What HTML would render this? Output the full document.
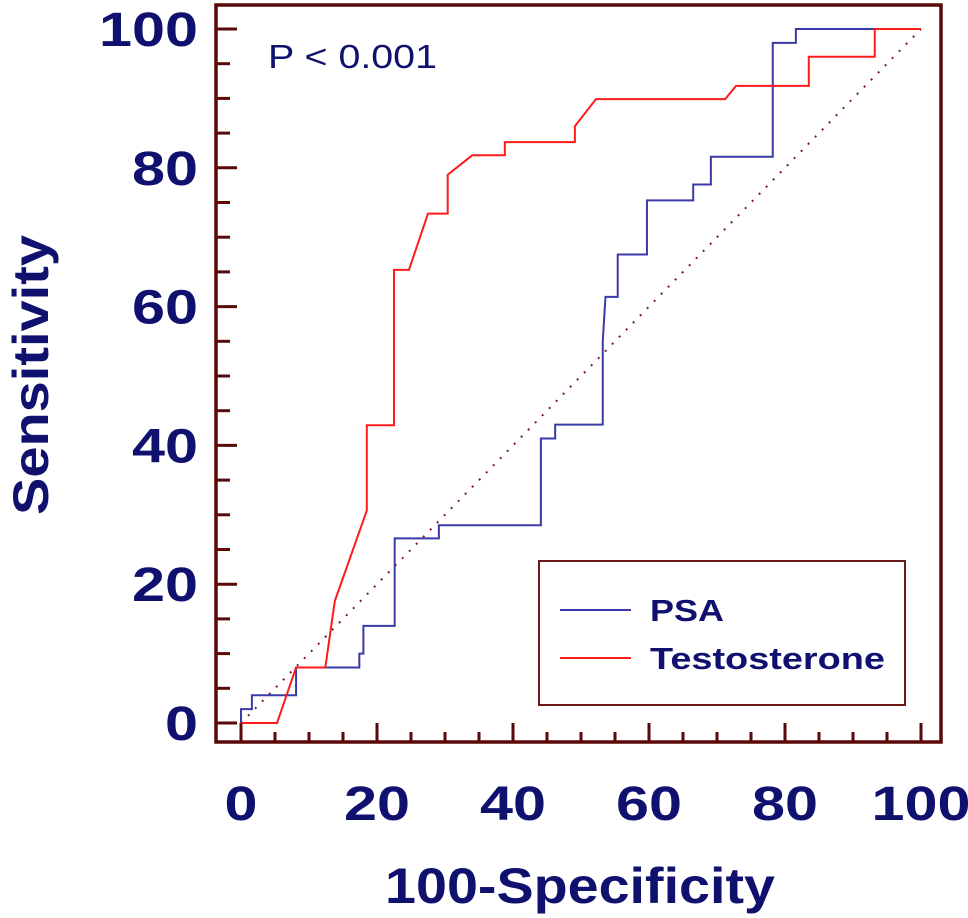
<!DOCTYPE html>
<html><head><meta charset="utf-8"><style>
body{margin:0;background:#fff}
svg{display:block}
text{font-family:"Liberation Sans",Arial,sans-serif}
</style></head><body>
<svg id="chart" width="968" height="918" viewBox="0 0 968 918">
<g id="g"></g>
<text x="268" y="68" font-size="33" fill="#10106e" textLength="169" lengthAdjust="spacingAndGlyphs">P &lt; 0.001</text>
<g>
<rect x="539" y="561" width="366" height="144" fill="#fff" stroke="#6a1a1a" stroke-width="2"/>
<line x1="560" y1="610" x2="631" y2="610" stroke="#3a3aa8" stroke-width="2"/>
<text x="650" y="621" font-size="31" font-weight="bold" fill="#10106e" textLength="74" lengthAdjust="spacingAndGlyphs">PSA</text>
<line x1="560" y1="658" x2="631" y2="658" stroke="#ff1a1a" stroke-width="2"/>
<text x="650" y="669" font-size="31" font-weight="bold" fill="#10106e" textLength="235" lengthAdjust="spacingAndGlyphs">Testosterone</text>
</g>
<text x="385" y="903" font-size="50" font-weight="bold" fill="#10106e" textLength="390" lengthAdjust="spacingAndGlyphs">100-Specificity</text>
<text transform="translate(48,515) rotate(-90)" font-size="50" font-weight="bold" fill="#10106e" textLength="280" lengthAdjust="spacingAndGlyphs">Sensitivity</text>
</svg>
<script>
const psaX=[0,0,1.6,1.6,8.1,8.1,17.4,17.4,18,18,22.6,22.6,29.1,29.1,44.1,44.1,46.2,46.2,53.2,53.2,53.6,55.4,55.4,59.7,59.7,66.5,66.5,69.1,69.1,78.2,78.2,81.6,81.6,100];
const psaY=[0,2,2,4,4,8,8,10,10,14,14,26.6,26.6,28.5,28.5,41,41,43,43,55,61.4,61.4,67.5,67.5,75.3,75.3,77.6,77.6,81.6,81.6,98,98,100,100];
const tesX=[0,5.3,8.1,12.4,13.8,18.5,18.5,22.5,22.5,24.7,27.5,30.4,30.4,34,38.8,38.8,49.1,49.1,52.2,71.2,72.8,83.5,83.5,93.2,93.2,100];
const tesY=[0,0,8,8,17.6,30.6,42.9,42.9,65.3,65.3,73.4,73.4,79,81.8,81.8,83.7,83.7,86,89.9,89.9,91.8,91.8,96,96,100,100];
const xTicks=[0,20,40,60,80,100];
const yTicks=[0,20,40,60,80,100];
const X0=241,XS=6.8,Y0=723,YS=6.94;
function sx(v){return X0+v*XS}
function sy(v){return Y0-v*YS}
const NS='http://www.w3.org/2000/svg';
const g=document.getElementById('g');
function mk(t,a){const e=document.createElementNS(NS,t);for(const k in a)e.setAttribute(k,a[k]);g.appendChild(e);return e}
const frame=mk('rect',{x:216,y:5,width:725,height:737,fill:'none',stroke:'#5a0808','stroke-width':3.5});


for(let v=0;v<=100;v+=5){
  const maj=v%20===0;
  const t1=mk('line',{x1:216,x2:216+(maj?21:14),y1:sy(v),y2:sy(v),stroke:'#5a0808','stroke-width':3});
  
  
  const t2=mk('line',{x1:sx(v),x2:sx(v),y1:742,y2:742-(maj?19:10),stroke:'#5a0808','stroke-width':3});
  
  
}
yTicks.forEach(v=>{
  const w=String(v).length*33;
  const t=mk('text',{x:198-w,y:sy(v)+17,'font-size':48,'font-weight':'bold',fill:'#10106e',textLength:w,lengthAdjust:'spacingAndGlyphs'});
  t.textContent=v;
  
  
});
xTicks.forEach(v=>{
  const w=String(v).length*33;
  const t=mk('text',{x:sx(v)-w/2,y:820,'font-size':48,'font-weight':'bold',fill:'#10106e',textLength:w,lengthAdjust:'spacingAndGlyphs'});
  t.textContent=v;
  
  
});
const diag=mk('line',{x1:sx(0),y1:sy(0),x2:sx(100),y2:sy(100),stroke:'#7a2020','stroke-width':2,'stroke-dasharray':'2 8'});


function pts(xs,ys){return xs.map((x,i)=>sx(x)+','+sy(ys[i])).join(' ')}
const lp=mk('polyline',{points:pts(psaX,psaY),fill:'none',stroke:'#3a3aa8','stroke-width':2});


const lt=mk('polyline',{points:pts(tesX,tesY),fill:'none',stroke:'#ff1a1a','stroke-width':2});


</script>
</body></html>
